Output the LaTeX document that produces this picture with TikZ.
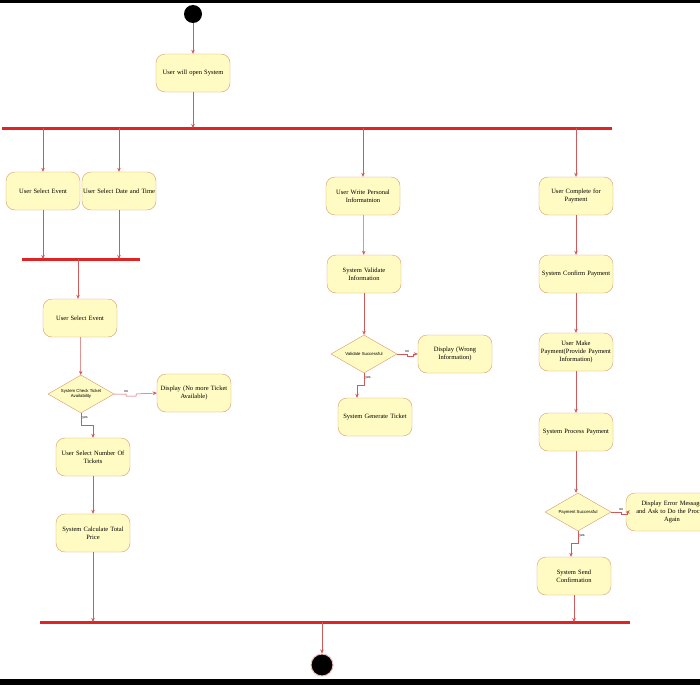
\documentclass[tikz,border=0pt]{standalone}
\usepackage{fontspec}
\setmainfont{Liberation Serif}
\newfontfamily\dsans{Liberation Sans}
\usetikzlibrary{shapes.geometric,arrows.meta}
\definecolor{ln}{HTML}{D05A5A}
\definecolor{bx}{HTML}{FFFBC2}
\definecolor{bd}{HTML}{D99A6C}
\definecolor{br}{HTML}{E02424}
\tikzset{
 act/.style={draw=bd,fill=bx,rounded corners=9pt,minimum width=74pt,minimum height=38pt,align=center,font=\fontsize{6.5}{8}\selectfont,inner sep=1pt,text width=72pt},
 dec/.style={draw=bd,fill=bx,diamond,aspect=1.75,minimum width=66pt,minimum height=38pt,inner sep=0pt,align=center,font=\dsans\fontsize{4.3}{5.3}\selectfont},
 ar/.style={draw=ln,-{Stealth[length=4pt,width=3.5pt]},line width=0.5pt},
 lbl/.style={font=\dsans\fontsize{3.5}{4}\selectfont,inner sep=1pt},
 barl/.style={br,line width=3pt}
}
\begin{document}
\begin{tikzpicture}[x=1pt,y=-1pt]
\clip (0,0) rectangle (700,685);
\fill[white] (0,0) rectangle (700,685);
\fill[black] (0,0) rectangle (700,3);
\fill[black] (0,679) rectangle (700,685);
\node[circle,fill=black,minimum size=18pt,inner sep=0] (start) at (193,14) {};
\node[act] (open) at (193,73) {User will open System};
\draw[barl] (2,128) -- (612,128);
\coordinate (b1a) at (43,128);\coordinate (b1b) at (119,128);\coordinate (b1c) at (363,128);\coordinate (b1d) at (576,128);\coordinate (b1o) at (193,128);
\node[act] (se) at (43,191) {User Select Event};
\node[act] (sd) at (119,191) {User Select Date and Time};
\node[act] (wp) at (363,196) {User Write Personal\\Informatnion};
\node[act] (cp) at (576,196) {User Complete for\\Payment};
\draw[barl] (22,259) -- (140,259);
\coordinate (b2a) at (43,259);\coordinate (b2b) at (119,259);\coordinate (b2o) at (78,259);
\node[act] (se2) at (80,318) {User Select Event};
\node[dec] (d1) at (81,394) {System Check Ticket\\Availability};
\node[act] (nm) at (194,393) {Display (No more Ticket\\Available)};
\node[act] (num) at (93,457) {User Select Number Of\\Tickets};
\node[act] (calc) at (93,533) {System Calculate Total\\Price};
\node[act] (val) at (364,274) {System Validate\\Information};
\node[dec] (d2) at (364,354) {Validate Successful};
\node[act] (wr) at (455,354) {Display (Wrong\\Information)};
\node[act] (gen) at (375,417) {System Generate Ticket};
\node[act] (conf) at (576,274) {System Confirm Payment};
\node[act] (mk) at (576,352) {User Make\\Payment(Provide Payment\\Information)};
\node[act] (proc) at (576,432) {System Process Payment};
\node[dec] (d3) at (578,512) {Payment Successful};
\node[act,text width=90pt] (err) at (672,512) {Display Error Message\\and Ask to Do the Process\\Again};
\node[act] (send) at (574,576) {System Send\\Confirmation};
\draw[barl] (40,622) -- (630,622);
\coordinate (b3a) at (93,622);\coordinate (b3b) at (574,622);\coordinate (b3o) at (322,622);
\node[circle,fill=black,draw=ln!40,line width=1pt,minimum size=22pt,inner sep=0] (end) at (322,665) {};
\draw[ar] (start) -- (open);
\draw[ar] (open) -- (b1o);
\draw[ar] (b1a) -- (se);\draw[ar] (b1b) -- (sd);\draw[ar] (b1c) -- (wp);\draw[ar] (b1d) -- (cp);
\draw[ar] (se) -- (b2a);\draw[ar] (sd) -- (b2b);
\draw[ar] (b2o) -- (se2.north -| b2o);
\draw[ar] (se2) -- (d1);
\draw[ar] (d1.east) -- ++(12,0) node[lbl,above] {no} -- ++(0,2) -- ++(10,0) -- ++(0,-2) -- (nm.west);
\draw[ar] (d1.south) -- ++(0,12) node[lbl,right,pos=0.4] {yes} -| (num.north);
\draw[ar] (num) -- (calc);
\draw[ar] (calc) -- (b3a);
\draw[ar] (wp) -- (val);
\draw[ar] (val) -- (d2);
\draw[ar] (d2.east) -- ++(10,0) node[lbl,above] {no} -- ++(0,2) -- ++(6,0) -- ++(0,-2) -- (wr.west);
\draw[ar] (d2.south) -- ++(0,12) node[lbl,right,pos=0.4] {yes} -| ([xshift=-18pt]gen.north);
\draw[ar] (cp) -- (conf);
\draw[ar] (conf) -- (mk);
\draw[ar] (mk) -- (proc);
\draw[ar] (proc.south) -- (proc.south |- d3.north);
\draw[ar] (d3.east) -- ++(10,0) node[lbl,above] {no} -- ++(0,2) -- ++(6,0) -- ++(0,-2) -- (err.west);
\draw[ar] (d3.south) -- ++(0,12) node[lbl,right,pos=0.4] {yes} -| ([xshift=-3pt]send.north);
\draw[ar] (send) -- (b3b);
\draw[ar] (b3o) -- (end);
\end{tikzpicture}
\end{document}
